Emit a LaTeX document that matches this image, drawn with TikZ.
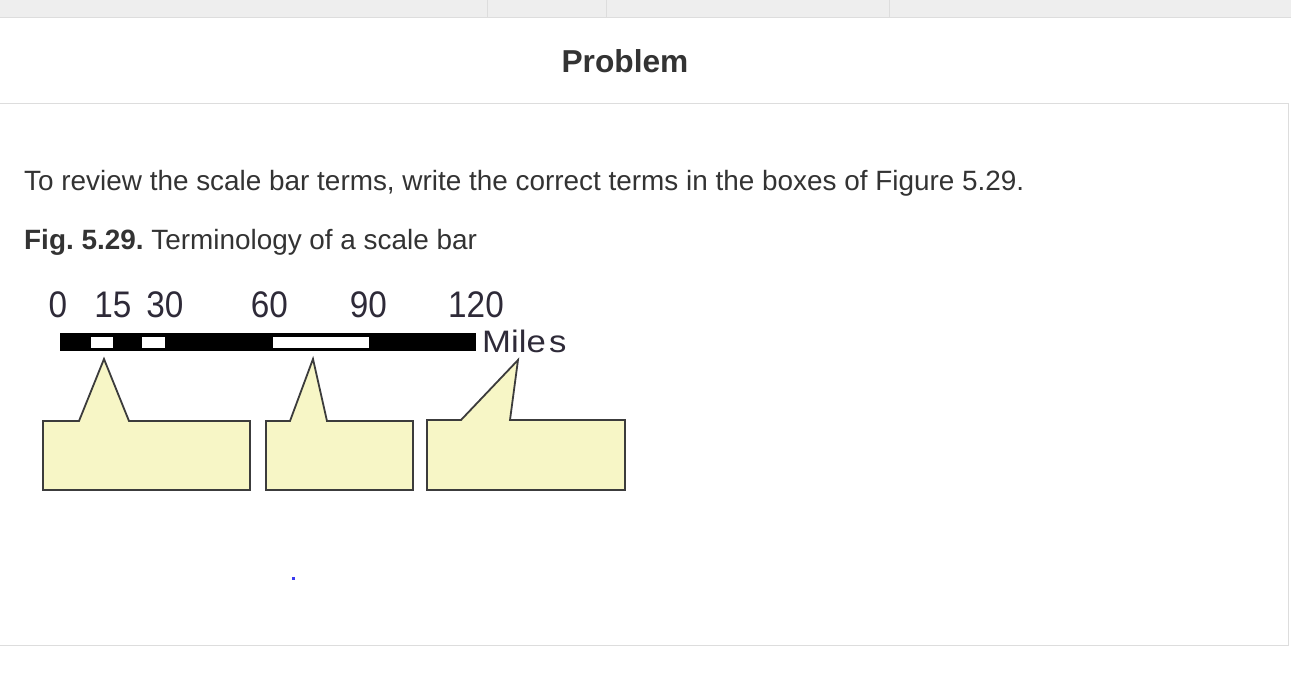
\documentclass[tikz,border=0pt]{standalone}
\usepackage{fontspec}
\setmainfont{Liberation Sans}
\frenchspacing
\definecolor{barbg}{HTML}{EEEEEE}
\definecolor{rule}{HTML}{DDDDDD}
\definecolor{txt}{HTML}{333333}
\definecolor{callfill}{HTML}{F7F6C6}
\definecolor{callline}{HTML}{3C3C3C}
\definecolor{digit}{HTML}{2E2A38}
\definecolor{dotblue}{HTML}{3A3AF0}
\tikzset{
  txtnode/.style={inner sep=0pt, text=txt},
  digitlbl/.style={inner sep=0pt, anchor=base, text=digit, font=\fontsize{37}{40}\selectfont, xscale=0.9},
  callout/.style={fill=callfill, draw=callline, line width=1.8pt, line join=miter},
  rulez/.style={draw=rule, line width=1.5pt}
}
\begin{document}
\begin{tikzpicture}[x=1pt,y=-1pt]
\useasboundingbox (0,0) rectangle (1291,683);
\fill[white] (0,0) rectangle (1291,683);
% top bar
\fill[barbg] (0,0) rectangle (1291,17);
\draw[rulez] (0,17.5) -- (1291,17.5);
\foreach \xx in {487,606,889} \draw[draw=rule, line width=1pt] (\xx,0) -- (\xx,17);
% heading
\node[txtnode, anchor=base, font=\fontsize{31.7}{34}\selectfont\bfseries] (head) at (625,72) {Problem};
% content box
\draw[rulez] (-2,103.5) -- (1288.5,103.5) -- (1288.5,645.5) -- (-2,645.5);
% texts
\node[txtnode, anchor=base west, font=\fontsize{27.9}{32}\selectfont] (line1) at (24,190) {To review the scale bar terms, write the correct terms in the boxes of Figure 5.29.};
\node[txtnode, anchor=base west, font=\fontsize{27.9}{32}\selectfont] (line2) at (24,249) {\textbf{Fig. 5.29.} Terminology of a scale bar};
% scale bar labels
\node[digitlbl] (l0) at (58,317) {0};
\node[digitlbl] (l15) at (113,317) {15};
\node[digitlbl] (l30) at (165,317) {30};
\node[digitlbl] (l60) at (269.5,317) {60};
\node[digitlbl] (l90) at (368.5,317) {90};
\node[digitlbl] (l120) at (476,317) {120};
\node[inner sep=0pt, anchor=base west, text=digit, font=\fontsize{31}{34}\selectfont, xscale=1.12] (miles) at (482,352) {Mile\kern3pt s};
% scale bar
\fill[black] (60,333) rectangle (476,351);
\fill[white] (91,337) rectangle (113,348);
\fill[white] (142,337) rectangle (165,348);
\fill[white] (273,337) rectangle (369,348);
% callouts
\draw[callout] (43,421) -- (79,421) -- (104,359) -- (129,421) -- (250,421) -- (250,490) -- (43,490) -- cycle;
\draw[callout] (266,421) -- (290,421) -- (313,359) -- (327,421) -- (413,421) -- (413,490) -- (266,490) -- cycle;
\draw[callout] (427,420) -- (461,420) -- (518,360) -- (510,420) -- (625,420) -- (625,490) -- (427,490) -- cycle;
% tiny blue mark
\fill[dotblue] (292,577) rectangle (294.5,580);
\end{tikzpicture}
\end{document}
